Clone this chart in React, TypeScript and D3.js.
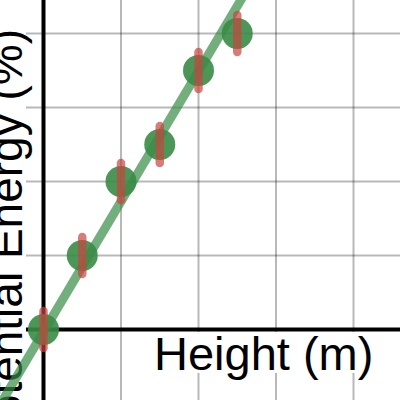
import React from "react";
import * as d3 from "d3";

// measured values
const heights = [0, 0.5, 1, 1.5, 2, 2.5];
const energies = [0, 1, 2, 2.5, 3.5, 4];
const errors = [0.25, 0.25, 0.25, 0.25, 0.25, 0.25];

// best-fit line endpoints
const fitX = [-1, 3];
const fitY = [-1.79, 5.25];

const gridTicks = [0, 1, 2, 3, 4];

const green = "#388c46";
const red = "#c74440";

function App() {
  const width = 400;
  const height = 400;

  const x = d3.scaleLinear().domain([0, 4]).range([43.5, 353.5]);
  const y = d3.scaleLinear().domain([0, 4]).range([329.5, 33.5]);

  const fitLine = d3
    .line<number>()
    .x((d) => x(d))
    .y((d, i) => y(fitY[i]))(fitX);

  const font = "'Liberation Sans', Arial, sans-serif";

  return (
    <svg
      width={width}
      height={height}
      viewBox={`0 0 ${width} ${height}`}
      style={{ position: "absolute", left: 0, top: 0, background: "white" }}
    >
      {/* grid */}
      <g stroke="rgba(0,0,0,0.28)" strokeWidth={2}>
        {gridTicks.map((t) => (
          <line key={"v" + t} x1={x(t)} x2={x(t)} y1={0} y2={height} />
        ))}
        {gridTicks.map((t) => (
          <line key={"h" + t} x1={0} x2={width} y1={y(t)} y2={y(t)} />
        ))}
      </g>

      {/* axes */}
      <g stroke="black" strokeWidth={4}>
        <line x1={x(0)} x2={x(0)} y1={0} y2={height} />
        <line x1={0} x2={width} y1={y(0)} y2={y(0)} />
      </g>

      {/* axis labels with white backing */}
      <rect x={150} y={332} width={230} height={41} fill="white" />
      <text x={154} y={370} fontFamily={font} fontSize={47} fill="black">
        Height (m)
      </text>
      <rect x={-20} y={24} width={46} height={400} fill="white" />
      <text
        transform={`translate(22,29) rotate(-90)`}
        textAnchor="end"
        fontFamily={font}
        fontSize={46}
        fill="black"
      >
        Potential Energy (%)
      </text>

      {/* fit line */}
      <path
        d={fitLine ?? ""}
        fill="none"
        stroke={green}
        strokeOpacity={0.7}
        strokeWidth={9}
      />

      {/* points */}
      {heights.map((h, i) => (
        <circle
          key={"p" + i}
          cx={x(h)}
          cy={y(energies[i])}
          r={15.5}
          fill={green}
          fillOpacity={0.9}
        />
      ))}

      {/* error bars */}
      {heights.map((h, i) => (
        <line
          key={"e" + i}
          x1={x(h)}
          x2={x(h)}
          y1={y(energies[i] - errors[i])}
          y2={y(energies[i] + errors[i])}
          stroke={red}
          strokeOpacity={0.7}
          strokeWidth={8.5}
          strokeLinecap="round"
        />
      ))}
    </svg>
  );
}

export default App;
